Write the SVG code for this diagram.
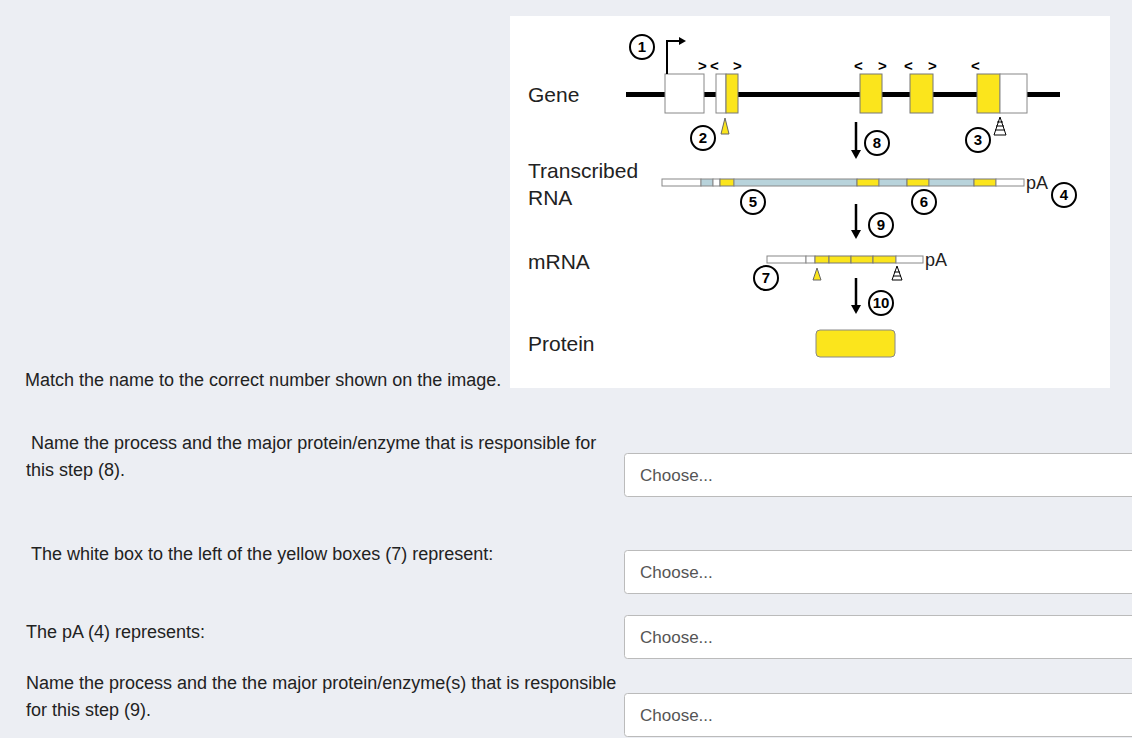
<svg xmlns="http://www.w3.org/2000/svg" width="1132" height="738" viewBox="0 0 1132 738">
<style>
.t{font-family:"Liberation Sans",Arial,sans-serif;fill:#222;font-size:18px}
.lab{font-family:"Liberation Sans",Arial,sans-serif;fill:#222;font-size:21px}
.c circle{fill:#fff;stroke:#000;stroke-width:2}
.c text{font-family:"Liberation Sans",Arial,sans-serif;font-weight:bold;font-size:15px;text-anchor:middle;fill:#000}
.y{fill:#fbe51c;stroke:#777;stroke-width:1}
.w{fill:#fff;stroke:#888;stroke-width:1}
.b{fill:#b8d3db;stroke:#888;stroke-width:1}
.ch{font-family:"Liberation Sans",Arial,sans-serif;font-weight:bold;font-size:15px;fill:#000}
.sel rect{fill:#fff;stroke:#bbb}
.sel text{font-family:"Liberation Sans",Arial,sans-serif;font-size:17px;fill:#555}
</style>
<rect width="1132" height="738" fill="#eceef3"/>
<rect x="510" y="16" width="600" height="372" fill="#fff"/>
<text class="lab" x="528" y="102">Gene</text>
<text class="lab" x="528" y="178">Transcribed</text>
<text class="lab" x="528" y="205">RNA</text>
<text class="lab" x="528" y="269">mRNA</text>
<text class="lab" x="528" y="351">Protein</text>
<g id="gene">
<rect x="626" y="92" width="434" height="5" fill="#000"/>
<rect class="w" x="665" y="74" width="39" height="39"/>
<rect class="w" x="716" y="74" width="10" height="39"/>
<rect class="y" x="726" y="74" width="12" height="39"/>
<rect class="y" x="860" y="74" width="22" height="39"/>
<rect class="y" x="910" y="74" width="23" height="39"/>
<rect class="y" x="977" y="74" width="23" height="39"/>
<rect class="w" x="1000" y="74" width="27" height="39"/>
<path d="M667 74 V41 H680" fill="none" stroke="#000" stroke-width="2"/>
<path d="M679 37 L686 41 L679 45z" fill="#000"/>
<text class="ch" x="698" y="71">&gt;</text><text class="ch" x="710" y="71">&lt;</text><text class="ch" x="733" y="71">&gt;</text>
<text class="ch" x="854" y="71">&lt;</text><text class="ch" x="878" y="71">&gt;</text>
<text class="ch" x="904" y="71">&lt;</text><text class="ch" x="928" y="71">&gt;</text>
<text class="ch" x="971" y="71">&lt;</text>
<path d="M725 118 L721 134 L729 134z" fill="#fbe51c" stroke="#666"/>
<path d="M1000 117 L994 135 L1006 135z" fill="#fff" stroke="#000"/>
<path d="M995 130 H1005 M996 126 H1004 M997 122 H1003" stroke="#000"/>
</g>
<g id="rna">
<rect class="w" x="662" y="179" width="39" height="7"/>
<rect class="b" x="701" y="179" width="12" height="7"/>
<rect class="w" x="713" y="179" width="7" height="7"/>
<rect class="y" x="720" y="179" width="14" height="7"/>
<rect class="b" x="734" y="179" width="123" height="7"/>
<rect class="y" x="857" y="179" width="22" height="7"/>
<rect class="b" x="879" y="179" width="28" height="7"/>
<rect class="y" x="907" y="179" width="22" height="7"/>
<rect class="b" x="929" y="179" width="45" height="7"/>
<rect class="y" x="974" y="179" width="22" height="7"/>
<rect class="w" x="996" y="179" width="28" height="7"/>
<text class="t" x="1026" y="189" font-size="14">pA</text>
</g>
<g id="mrna">
<rect class="w" x="767" y="256" width="39" height="7"/>
<rect class="w" x="806" y="256" width="9" height="7"/>
<rect class="y" x="815" y="256" width="14" height="7"/>
<rect class="y" x="829" y="256" width="22" height="7"/>
<rect class="y" x="851" y="256" width="22" height="7"/>
<rect class="y" x="873" y="256" width="23" height="7"/>
<rect class="w" x="896" y="256" width="27" height="7"/>
<text class="t" x="925" y="266" font-size="14">pA</text>
<path d="M817 268 L813 280 L821 280z" fill="#fbe51c" stroke="#666"/>
<path d="M897 266 L892 280 L902 280z" fill="#fff" stroke="#000"/>
<path d="M893 276 H901 M894 272 H900" stroke="#000"/>
</g>
<g id="protein"><rect x="816" y="330" width="79" height="27" rx="4" fill="#fbe51c" stroke="#888"/></g>
<g id="connectors" stroke="#000" stroke-width="2.5">
<line x1="856" y1="122" x2="856" y2="152"/><path d="M851 150 L856 159 L861 150z" fill="#000" stroke="none"/>
<line x1="856" y1="204" x2="856" y2="232"/><path d="M851 230 L856 239 L861 230z" fill="#000" stroke="none"/>
<line x1="856" y1="278" x2="856" y2="307"/><path d="M851 305 L856 314 L861 305z" fill="#000" stroke="none"/>
</g>
<g class="c">
<g id="n1"><circle cx="642" cy="47" r="12"/><text x="642" y="52">1</text></g>
<g id="n2"><circle cx="703" cy="138" r="12"/><text x="703" y="143">2</text></g>
<g id="n3"><circle cx="978" cy="140" r="12"/><text x="978" y="145">3</text></g>
<g id="n4"><circle cx="1064" cy="195" r="12"/><text x="1064" y="200">4</text></g>
<g id="n5"><circle cx="753" cy="202" r="12"/><text x="753" y="207">5</text></g>
<g id="n6"><circle cx="924" cy="202" r="12"/><text x="924" y="207">6</text></g>
<g id="n7"><circle cx="766" cy="278" r="12"/><text x="766" y="283">7</text></g>
<g id="n8"><circle cx="877" cy="143" r="12"/><text x="877" y="148">8</text></g>
<g id="n9"><circle cx="881" cy="225" r="12"/><text x="881" y="230">9</text></g>
<g id="n10"><circle cx="881" cy="303" r="12"/><text x="881" y="308">10</text></g>
</g>
<text class="t" x="25" y="386">Match the name to the correct number shown on the image.</text>
<text class="t" x="31" y="449">Name the process and the major protein/enzyme that is responsible for</text>
<text class="t" x="26" y="476">this step (8).</text>
<text class="t" x="31" y="560">The white box to the left of the yellow boxes (7) represent:</text>
<text class="t" x="26" y="638">The pA (4) represents:</text>
<text class="t" x="26" y="689">Name the process and the the major protein/enzyme(s) that is responsible</text>
<text class="t" x="26" y="716">for this step (9).</text>
<g class="sel">
<g id="s1"><rect x="624.5" y="453.5" width="520" height="43" rx="3"/><text x="640" y="481">Choose...</text></g>
<g id="s2"><rect x="624.5" y="550.5" width="520" height="43" rx="3"/><text x="640" y="578">Choose...</text></g>
<g id="s3"><rect x="624.5" y="615.5" width="520" height="43" rx="3"/><text x="640" y="643">Choose...</text></g>
<g id="s4"><rect x="624.5" y="693.5" width="520" height="43" rx="3"/><text x="640" y="721">Choose...</text></g>
</g>
</svg>
